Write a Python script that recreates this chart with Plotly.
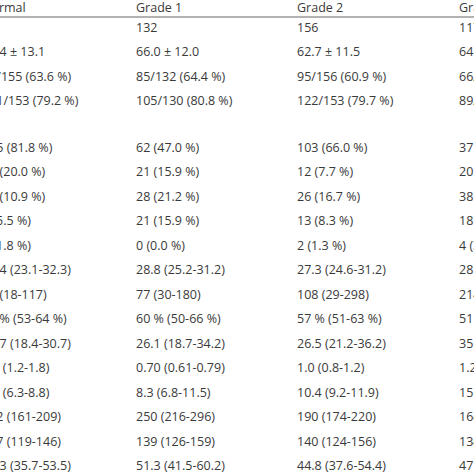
import plotly.graph_objects as go

headers = ["Normal", "Grade 1", "Grade 2", "Grade 3"]
col_normal = ["", "65.4 ± 13.1", "99/155 (63.6 %)", "121/153 (79.2 %)", "",
              "135 (81.8 %)", "33 (20.0 %)", "18 (10.9 %)", "9 (5.5 %)", "3 (1.8 %)",
              "27.4 (23.1-32.3)", "52 (18-117)", "59 % (53-64 %)", "23.7 (18.4-30.7)",
              "1.5 (1.2-1.8)", "7.4 (6.3-8.8)", "182 (161-209)", "127 (119-146)",
              "44.3 (35.7-53.5)"]
col_g1 = ["132", "66.0 ± 12.0", "85/132 (64.4 %)", "105/130 (80.8 %)", "",
          "62 (47.0 %)", "21 (15.9 %)", "28 (21.2 %)", "21 (15.9 %)", "0 (0.0 %)",
          "28.8 (25.2-31.2)", "77 (30-180)", "60 % (50-66 %)", "26.1 (18.7-34.2)",
          "0.70 (0.61-0.79)", "8.3 (6.8-11.5)", "250 (216-296)", "139 (126-159)",
          "51.3 (41.5-60.2)"]
col_g2 = ["156", "62.7 ± 11.5", "95/156 (60.9 %)", "122/153 (79.7 %)", "",
          "103 (66.0 %)", "12 (7.7 %)", "26 (16.7 %)", "13 (8.3 %)", "2 (1.3 %)",
          "27.3 (24.6-31.2)", "108 (29-298)", "57 % (51-63 %)", "26.5 (21.2-36.2)",
          "1.0 (0.8-1.2)", "10.4 (9.2-11.9)", "190 (174-220)", "140 (124-156)",
          "44.8 (37.6-54.4)"]
col_g3 = ["117", "64.1 ± 12.3", "66/117 (56.4 %)", "89/115 (77.4 %)", "",
          "37 (31.6 %)", "20 (17.1 %)", "38 (32.5 %)", "18 (15.4 %)", "4 (3.4 %)",
          "28.1 (24.9-31.6)", "214 (84-440)", "51 % (44-58 %)", "35.2 (26.4-45.1)",
          "1.2 (1.0-1.5)", "15.1 (12.8-18.2)", "164 (140-196)", "134 (120-150)",
          "47.2 (38.0-57.3)"]
row_y = [29, 53, 78, 102, 126, 149, 173, 198, 222, 247, 271, 296, 320, 345,
         369, 394, 418, 443, 467]
header_y = 9
rule_y = 17
col_x = [-18, 136, 297, 459]
LEFT = 60  # hidden strip on the left: the table is cropped there

fig = go.Figure()
fig.add_trace(go.Scatter(x=[-LEFT, 474], y=[rule_y, rule_y], mode="lines",
                         line=dict(color="#666", width=1.2), hoverinfo="skip",
                         cliponaxis=False))
font = dict(family="Open Sans", size=12.5, color="#3a3a3a")
for cx, head, col in zip(col_x, headers, [col_normal, col_g1, col_g2, col_g3]):
    fig.add_trace(go.Scatter(x=[cx] * (len(col) + 1), y=[header_y] + row_y,
                             text=[head] + col, mode="text", cliponaxis=False,
                             textposition="middle right", textfont=font, hoverinfo="skip"))
fig.update_layout(
    width=474 + LEFT, height=474, showlegend=False,
    margin=dict(l=0, r=0, t=0, b=0),
    paper_bgcolor="white", plot_bgcolor="white",
    xaxis=dict(range=[-LEFT, 474], visible=False, fixedrange=True),
    yaxis=dict(range=[474, 0], visible=False, fixedrange=True),
)
fig.write_html("out.html", config={"displayModeBar": False},
               post_script=f"document.body.style.margin='0 0 0 -{LEFT}px';"
                           "document.body.style.overflow='hidden';")
